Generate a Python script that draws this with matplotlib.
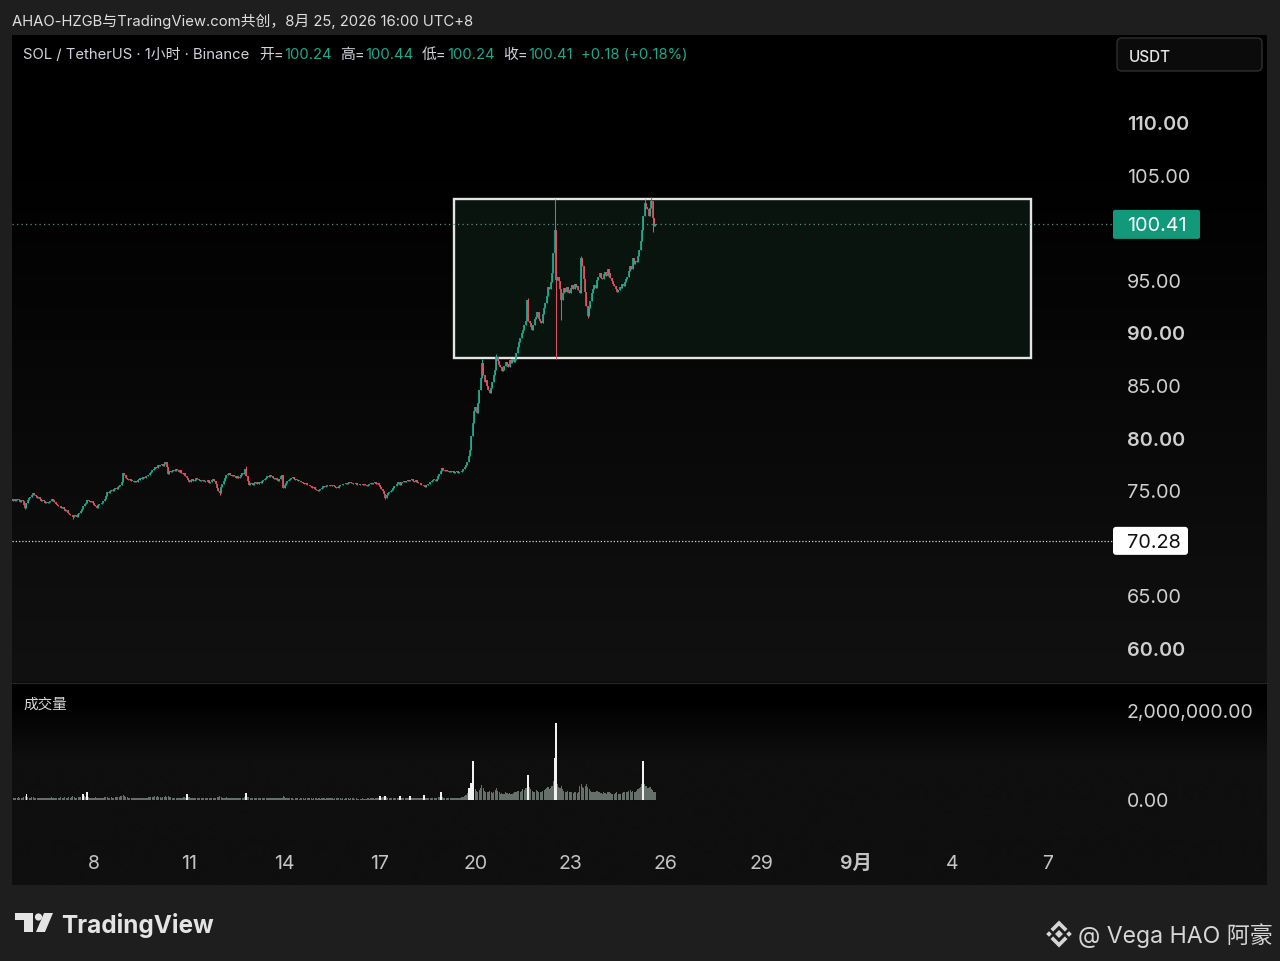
import numpy as np
import pandas as pd
import matplotlib
matplotlib.use('Agg')
import matplotlib.pyplot as plt
import matplotlib.dates as mdates
import matplotlib.transforms as mtrans
from matplotlib.patches import Rectangle, FancyBboxPatch, Polygon, Circle

plt.rcParams['font.family'] = ['Inter', 'Noto Sans CJK SC', 'DejaVu Sans']

# ---------------- data (SOL/USDT, 1h) ----------------
start_time = '2026-08-05 10:00'
first_open = 74.05
close = [
    74.10, 74.22, 74.05, 74.18, 74.30, 74.12, 73.98, 74.15, 74.06, 73.72, 73.45, 73.90, 74.20, 74.35, 74.48, 74.62, 74.80, 74.66, 74.52, 74.40, 74.45, 74.28, 74.10, 74.18,
    74.05, 73.92, 74.00, 73.85, 73.95, 74.10, 74.22, 74.15, 73.98, 73.80, 73.70, 73.62, 73.55, 73.40, 73.48, 73.30, 73.10, 73.20, 72.95, 72.85, 72.70, 72.78, 72.55, 72.62,
    72.70, 72.58, 72.80, 72.95, 73.10, 73.30, 73.55, 73.75, 73.90, 74.20, 74.05, 73.95, 74.10, 73.85, 73.70, 73.60, 73.45, 73.65, 73.80, 73.75, 73.90, 74.05, 74.30, 74.55,
    74.90, 74.85, 75.00, 75.10, 75.05, 75.20, 75.30, 75.25, 75.40, 75.50, 75.60, 75.90, 76.70, 76.50, 76.30, 76.20, 76.05, 76.15, 75.95, 76.00, 75.85, 75.95, 75.90, 76.05,
    76.10, 76.25, 76.20, 76.35, 76.30, 76.45, 76.40, 76.55, 76.70, 76.85, 77.00, 77.10, 77.30, 77.20, 77.50, 77.40, 77.45, 77.55, 77.35, 77.60, 77.80, 77.30, 76.60, 76.90,
    76.80, 76.95, 77.05, 76.90, 77.10, 77.00, 76.85, 77.00, 76.75, 76.60, 76.70, 76.45, 76.30, 76.10, 75.90, 76.05, 76.15, 76.00, 76.10, 76.25, 76.20, 76.05, 75.95, 76.10,
    75.95, 76.00, 75.85, 75.90, 76.05, 75.80, 75.90, 76.10, 76.20, 76.00, 75.70, 75.30, 75.00, 74.85, 75.40, 75.70, 76.00, 76.30, 76.50, 76.60, 76.70, 76.55, 76.40, 76.50,
    76.45, 76.30, 76.40, 76.25, 76.35, 76.50, 76.70, 76.60, 77.10, 76.40, 76.00, 75.60, 75.80, 75.70, 75.55, 75.75, 75.90, 75.65, 75.70, 75.85, 75.80, 75.95, 76.10, 76.20,
    76.30, 76.40, 76.35, 76.50, 76.45, 76.30, 76.15, 76.25, 76.05, 75.95, 76.20, 76.40, 76.55, 75.30, 75.60, 75.80, 76.00, 76.10, 76.20, 76.30, 76.35, 76.20, 76.10, 76.05,
    75.95, 76.00, 75.90, 75.85, 75.80, 75.70, 75.75, 75.60, 75.55, 75.45, 75.50, 75.30, 75.40, 75.20, 75.10, 75.00, 75.15, 75.25, 75.30, 75.45, 75.40, 75.50, 75.60, 75.55,
    75.50, 75.45, 75.60, 75.50, 75.40, 75.30, 75.35, 75.45, 75.55, 75.60, 75.70, 75.65, 75.75, 75.70, 75.80, 75.85, 75.75, 75.80, 75.70, 75.65, 75.75, 75.60, 75.55, 75.65,
    75.70, 75.60, 75.65, 75.55, 75.50, 75.60, 75.70, 75.75, 75.65, 75.80, 75.85, 75.70, 75.80, 75.60, 75.40, 75.20, 75.00, 74.70, 74.40, 74.60, 74.80, 74.95, 75.05, 75.10,
    75.30, 75.50, 75.45, 75.70, 75.85, 75.60, 75.75, 75.90, 76.00, 75.85, 75.95, 76.10, 75.95, 76.05, 76.15, 76.00, 75.90, 76.10, 75.85, 75.75, 75.80, 75.60, 75.55, 75.45,
    75.40, 75.55, 75.70, 75.65, 75.85, 75.95, 76.05, 76.10, 75.95, 76.20, 76.40, 76.60, 76.90, 77.20, 77.05, 76.95, 77.00, 76.90, 76.85, 76.95, 76.80, 76.90, 76.75, 76.80,
    76.90, 76.75, 76.85, 76.80, 76.95, 77.10, 77.30, 77.50, 77.80, 78.30, 78.90, 80.20, 81.50, 82.60, 83.00, 82.40, 83.40, 84.60, 85.80, 87.20, 86.00, 85.40, 85.60, 85.00,
    84.60, 84.30, 84.80, 85.40, 86.00, 86.50, 87.80, 87.40, 87.00, 86.80, 86.40, 86.50, 86.90, 87.30, 87.10, 86.80, 87.50, 87.20, 87.60, 87.30, 87.50, 88.10, 88.70, 89.20,
    89.60, 90.00, 90.30, 90.80, 91.20, 93.20, 91.20, 91.00, 90.60, 90.30, 90.80, 91.40, 91.60, 92.00, 91.40, 91.20, 91.00, 91.80, 92.40, 92.90, 93.60, 94.40, 94.20, 94.90,
    95.70, 97.60, 99.80, 95.10, 95.40, 95.00, 94.20, 93.20, 93.80, 94.30, 93.90, 94.40, 94.10, 93.80, 94.30, 94.60, 94.20, 94.70, 94.40, 94.50, 94.10, 93.80, 97.20, 96.40,
    95.20, 93.90, 92.60, 91.70, 92.40, 93.10, 93.80, 94.20, 94.60, 94.30, 95.10, 95.40, 95.70, 95.30, 95.20, 95.60, 95.80, 95.50, 96.10, 95.70, 95.30, 95.00, 94.70, 94.50,
    94.20, 93.90, 94.10, 94.40, 94.30, 94.70, 94.50, 94.90, 95.20, 95.40, 95.90, 96.40, 96.10, 97.20, 96.60, 96.90, 96.80, 97.40, 97.90, 98.80, 99.80, 101.20, 102.40, 102.00,
    101.80, 101.20, 101.90, 102.60, 101.00, 100.24, 100.41,
]
# notable wick extremes (hour index -> price)
wick_high = {177: 77.35, 355: 87.60, 366: 88.00, 390: 93.40, 410: 102.75, 430: 97.40,
             478: 102.80, 483: 103.00, 486: 100.44}
wick_low = {10: 73.30, 46: 72.35, 157: 74.60, 282: 74.25, 411: 87.60, 415: 91.30,
            435: 91.50, 484: 99.60, 486: 100.24}

# volume in thousands
volume_k = [
    60, 45, 55, 40, 50, 70, 45, 40, 55, 75, 90, 130, 65, 50, 45, 60, 70, 55, 40, 35, 45, 50, 40, 35,
    40, 55, 50, 45, 35, 40, 60, 50, 45, 40, 55, 50, 45, 60, 55, 50, 65, 45, 55, 60, 50, 70, 85, 60,
    55, 50, 60, 65, 70, 75, 130, 85, 70, 180, 60, 55, 50, 45, 55, 60, 50, 45, 40, 50, 45, 55, 60, 65,
    70, 55, 50, 60, 55, 50, 60, 65, 70, 75, 80, 95, 110, 80, 65, 60, 55, 50, 45, 50, 55, 45, 40, 50,
    45, 40, 50, 45, 55, 50, 45, 60, 65, 70, 60, 75, 80, 65, 90, 70, 60, 55, 65, 70, 85, 75, 95, 70,
    60, 55, 50, 45, 55, 50, 45, 40, 50, 55, 60, 50, 130, 65, 60, 50, 45, 40, 35, 40, 45, 40, 35, 40,
    40, 35, 45, 40, 35, 50, 45, 40, 35, 45, 55, 60, 70, 85, 60, 55, 50, 55, 60, 50, 45, 40, 45, 40,
    35, 40, 45, 40, 35, 40, 50, 55, 75, 160, 70, 60, 50, 45, 40, 45, 40, 35, 40, 45, 40, 35, 40, 45,
    40, 45, 40, 35, 45, 40, 35, 40, 45, 50, 40, 45, 55, 80, 60, 50, 45, 40, 35, 40, 35, 30, 35, 40,
    35, 30, 35, 40, 35, 30, 35, 40, 45, 40, 35, 30, 35, 40, 35, 30, 35, 30, 35, 40, 35, 30, 35, 40,
    35, 40, 35, 30, 35, 40, 45, 40, 35, 30, 35, 30, 35, 40, 35, 30, 35, 40, 35, 30, 35, 30, 25, 30,
    30, 35, 30, 25, 30, 35, 30, 35, 40, 35, 30, 35, 40, 45, 90, 55, 60, 65, 90, 60, 50, 45, 40, 45,
    40, 45, 40, 50, 45, 90, 50, 45, 40, 45, 40, 50, 45, 95, 50, 45, 40, 45, 40, 35, 40, 45, 50, 110,
    50, 45, 40, 45, 50, 45, 55, 50, 45, 55, 60, 65, 180, 70, 55, 50, 45, 40, 45, 50, 45, 40, 45, 50,
    45, 50, 55, 50, 60, 70, 90, 120, 150, 270, 210, 380, 880, 300, 250, 200, 190, 230, 280, 330, 260, 210, 180, 190,
    170, 200, 180, 160, 190, 220, 280, 210, 170, 140, 150, 130, 140, 170, 150, 130, 150, 140, 130, 150, 170, 180, 210, 200,
    180, 210, 240, 220, 260, 280, 560, 290, 240, 210, 180, 190, 220, 210, 180, 170, 190, 210, 220, 250, 260, 290, 250, 280,
    310, 420, 940, 1730, 350, 290, 260, 310, 250, 210, 190, 180, 210, 190, 180, 170, 150, 180, 170, 150, 190, 310, 360, 290,
    260, 310, 350, 290, 250, 210, 190, 180, 170, 190, 210, 180, 170, 150, 140, 170, 150, 140, 180, 170, 150, 140, 130, 140,
    150, 170, 140, 130, 140, 150, 170, 180, 170, 190, 210, 220, 190, 210, 180, 190, 210, 240, 260, 290, 350, 880, 360, 320,
    280, 260, 290, 250, 220, 190, 170,
]
highlight_volume = [11, 54, 57, 132, 177, 278, 282, 293, 301, 311, 324, 345, 347, 348, 390, 410, 411, 477]

zone_start, zone_end = '2026-08-19 08:00', '2026-09-06 12:00'
zone_low, zone_high = 87.65, 102.80
last_price = 100.41
marked_level = 70.28

price_ticks = [110, 105, 95, 90, 85, 80, 75, 65, 60]
bold_ticks = [110, 90, 80, 60]
volume_ticks = [0, 2_000_000]
volume_tick_labels = ['0.00', '2,000,000.00']
time_ticks = ['2026-08-08', '2026-08-11', '2026-08-14', '2026-08-17', '2026-08-20', '2026-08-23',
              '2026-08-26', '2026-08-29', '2026-09-01', '2026-09-04', '2026-09-07']
time_labels = ['8', '11', '14', '17', '20', '23', '26', '29', '9月', '4', '7']

# ---------------- derived series ----------------
close = np.array(close)
n = len(close)
open_ = np.r_[first_open, close[:-1]]
high = np.maximum(open_, close)
low = np.minimum(open_, close)
for k, v in wick_high.items():
    high[k] = max(high[k], v)
for k, v in wick_low.items():
    low[k] = min(low[k], v)
times = pd.date_range(start_time, periods=n, freq='h')
xt = mdates.date2num(times.to_pydatetime())
vol = np.array(volume_k) * 1000.0

# ---------------- figure layout (pixel based) ----------------
W, H = 1280, 961
DY = 2  # small baseline correction for text in pixel coords
fig = plt.figure(figsize=(W / 100, H / 100), dpi=100, facecolor='#1e1e1e')


def add_ax(x0, y0, x1, y1, **kw):
    return fig.add_axes([x0 / W, 1 - y1 / H, (x1 - x0) / W, (y1 - y0) / H], **kw)


PL, PR = 12, 1267           # panel left / right
PT, PSEP, PB = 35, 683, 885  # panel top / separator / bottom

# gradient background
bg = add_ax(PL, PT, PR, PB)
rows = np.arange(PT, PB)
lvl = np.where(rows < PSEP,
               np.clip((rows - 150) / (PSEP - 150), 0, 1) * 17,
               np.clip((rows - 700) / 60.0, 0, 1) * 15)
img = np.repeat((lvl / 255.0)[:, None, None], 3, axis=2)
bg.imshow(img, extent=(0, 1, 0, 1), aspect='auto', interpolation='bilinear')
bg.set_axis_off()

# x mapping: Aug 8 00:00 at px 94, 31.77 px per day
px_day = 31.77
t_ref = mdates.date2num(pd.Timestamp('2026-08-08').to_pydatetime())
xlim = (t_ref - (94 - PL) / px_day, t_ref + (PR - 94) / px_day)

# price axes: 110 at px 123, 10.52 px per unit
px_unit = 10.52
ylim_p = (110 - (PSEP - 123) / px_unit, 110 + (123 - PT) / px_unit)
ax = add_ax(PL, PT, PR, PSEP)
ax.set_facecolor('none')
ax.set_xlim(*xlim)
ax.set_ylim(*ylim_p)
ax.set_axis_off()

UP, DOWN = '#1faa8e', '#df5161'
zx0 = mdates.date2num(pd.Timestamp(zone_start).to_pydatetime())
zx1 = mdates.date2num(pd.Timestamp(zone_end).to_pydatetime())
ax.add_patch(Rectangle((zx0, zone_low), zx1 - zx0, zone_high - zone_low,
                       facecolor='#0a140f', edgecolor='#e4e4e4', lw=1.7, zorder=1))

axis_frac = (1113 - PL) / (PR - PL)
ax.axhline(last_price, xmin=0, xmax=axis_frac, color='#5b8c80', lw=0.9,
           ls=(0, (1, 2.6)), zorder=2)
ax.axhline(marked_level, xmin=0, xmax=axis_frac, color='#d8d8d8', lw=0.9,
           ls=(0, (1, 1.6)), zorder=2)

cols = np.where(close >= open_, UP, DOWN)
ax.vlines(xt, low, high, colors=cols, lw=0.75, zorder=3)
blo = np.minimum(open_, close)
bhi = np.maximum(np.maximum(open_, close), blo + 0.07)
ax.vlines(xt, blo, bhi, colors=cols, lw=1.25, zorder=4)

# volume axes: 0 at px 800, 2M at px 711
px_per_vol = (800 - 711) / 2_000_000
ylim_v = (-(830 - 800) / px_per_vol, 2_000_000 + (711 - PSEP) / px_per_vol)
axv = add_ax(PL, PSEP, PR, 830)
axv.set_facecolor('none')
axv.set_xlim(*xlim)
axv.set_ylim(*ylim_v)
axv.set_axis_off()
hl = np.zeros(n, bool)
hl[highlight_volume] = True
axv.bar(xt[~hl], vol[~hl], width=0.85 / 24, color='#66706b', lw=0, zorder=2)
axv.bar(xt[hl], vol[hl], width=1.4 / 24, color='#f2f2f2', lw=0, zorder=3)

# ---------------- overlay (texts, labels, logos) ----------------
ov = fig.add_axes([0, 0, 1, 1])
ov.set_xlim(0, W)
ov.set_ylim(H, 0)
ov.set_axis_off()
ov.set_facecolor('none')

ov.plot([PL, PR], [PSEP, PSEP], color='#272727', lw=0.8)

TXT = '#d1d4dc'
TEAL = '#22a68c'
ov.text(12, 19 + DY, 'AHAO-HZGB与TradingView.com共创，8月 25, 2026 16:00 UTC+8',
        color='#dedede', fontsize=10.7, va='center', ha='left')

legend_parts = [(23, 'SOL / TetherUS · 1小时 · Binance', TXT), (259, '开=', TXT), (284, '100.24', TEAL),
                (340, '高=', TXT), (365, '100.44', TEAL), (422, '低=', TXT), (447, '100.24', TEAL),
                (503, '收=', TXT), (528, '100.41', TEAL), (581, '+0.18 (+0.18%)', TEAL)]
for xp, s, c in legend_parts:
    ov.text(xp, 53 + DY, s, color=c, fontsize=10.7, va='center', ha='left')

ov.add_patch(FancyBboxPatch((1117, 38), 145, 33, boxstyle='round,pad=0,rounding_size=5',
                            facecolor='#0b0b0b', edgecolor='#2f2f2f', lw=1))
ov.text(1129, 55 + DY, 'USDT', color='#e6e6e6', fontsize=11, va='center', ha='left', fontweight='medium')

bt_p = mtrans.blended_transform_factory(ov.transData, ax.transData)
off = mtrans.ScaledTranslation(0, -DY / 100, fig.dpi_scale_trans)
for t in price_ticks:
    ov.text(1127, t, f'{t:.2f}', transform=bt_p + off, color='#cfcfcf', fontsize=14.3, va='center',
            ha='left', fontweight='semibold' if t in bold_ticks else 'normal')


def ypix(axes, val):
    return H - axes.transData.transform((xlim[0], val))[1]


y_last = ypix(ax, last_price)
ov.add_patch(FancyBboxPatch((1113, y_last - 14), 87, 29, boxstyle='round,pad=0,rounding_size=2',
                            facecolor='#12997c', edgecolor='none'))
ov.text(1127, y_last + DY, f'{last_price:.2f}', color='#ffffff', fontsize=14.3, va='center', ha='left')
y_mark = ypix(ax, marked_level)
ov.add_patch(FancyBboxPatch((1113, y_mark - 14), 75, 28, boxstyle='round,pad=0,rounding_size=3',
                            facecolor='#ffffff', edgecolor='none'))
ov.text(1127, y_mark + DY, f'{marked_level:.2f}', color='#111111', fontsize=14.3, va='center', ha='left')

bt_v = mtrans.blended_transform_factory(ov.transData, axv.transData)
for t, s in zip(volume_ticks, volume_tick_labels):
    ov.text(1127, t, s, transform=bt_v + off, color='#cfcfcf', fontsize=14, va='center', ha='left')
ov.text(23, 703 + DY, '成交量', color='#d6d6d6', fontsize=10.5, va='center', ha='left')

bt_t = mtrans.blended_transform_factory(axv.transData, ov.transData)
for d, s in zip(time_ticks, time_labels):
    xd = mdates.date2num(pd.Timestamp(d).to_pydatetime())
    ov.text(xd, 862 + DY, s, transform=bt_t, color='#c4c4c4', fontsize=14, va='center', ha='center',
            fontweight='semibold' if '月' in s else 'normal')

# TradingView logo
LOGO = '#e4e4e4'
ov.add_patch(Rectangle((15, 913), 18, 7, color=LOGO, lw=0))
ov.add_patch(Rectangle((24, 913), 9, 19, color=LOGO, lw=0))
ov.add_patch(Circle((38.5, 917), 3.6, color=LOGO, lw=0))
ov.add_patch(Polygon([(44, 913), (53, 913), (45, 932), (36, 932)], closed=True, color=LOGO, lw=0))
ov.text(61, 923 + DY, 'TradingView', color=LOGO, fontsize=17.5, fontweight='bold', va='center', ha='left')

# Binance-like mark + author
ICON = '#d6d6d6'
cx, cy = 1059, 934


def diamond(x, y, r):
    return Polygon([(x, y - r), (x + r, y), (x, y + r), (x - r, y)], closed=True, color=ICON, lw=0)


def chevron(x, y, r, t, s):
    # s = -1 -> pointing up, s = +1 -> pointing down
    return Polygon([(x - r, y), (x, y + s * r), (x + r, y), (x + r - t, y - s * t),
                    (x, y + s * (r - 2 * t)), (x - r + t, y - s * t)], closed=True, color=ICON, lw=0)


ov.add_patch(diamond(cx, cy, 4.0))
ov.add_patch(diamond(cx - 10, cy, 2.8))
ov.add_patch(diamond(cx + 10, cy, 2.8))
ov.add_patch(chevron(cx, cy - 5, 8.5, 2.6, -1))
ov.add_patch(chevron(cx, cy + 5, 8.5, 2.6, +1))
ov.text(1078, 934 + DY, '@ Vega HAO 阿豪', color=ICON, fontsize=16.6, va='center', ha='left')

fig.savefig('out.png', dpi=100, facecolor=fig.get_facecolor())
